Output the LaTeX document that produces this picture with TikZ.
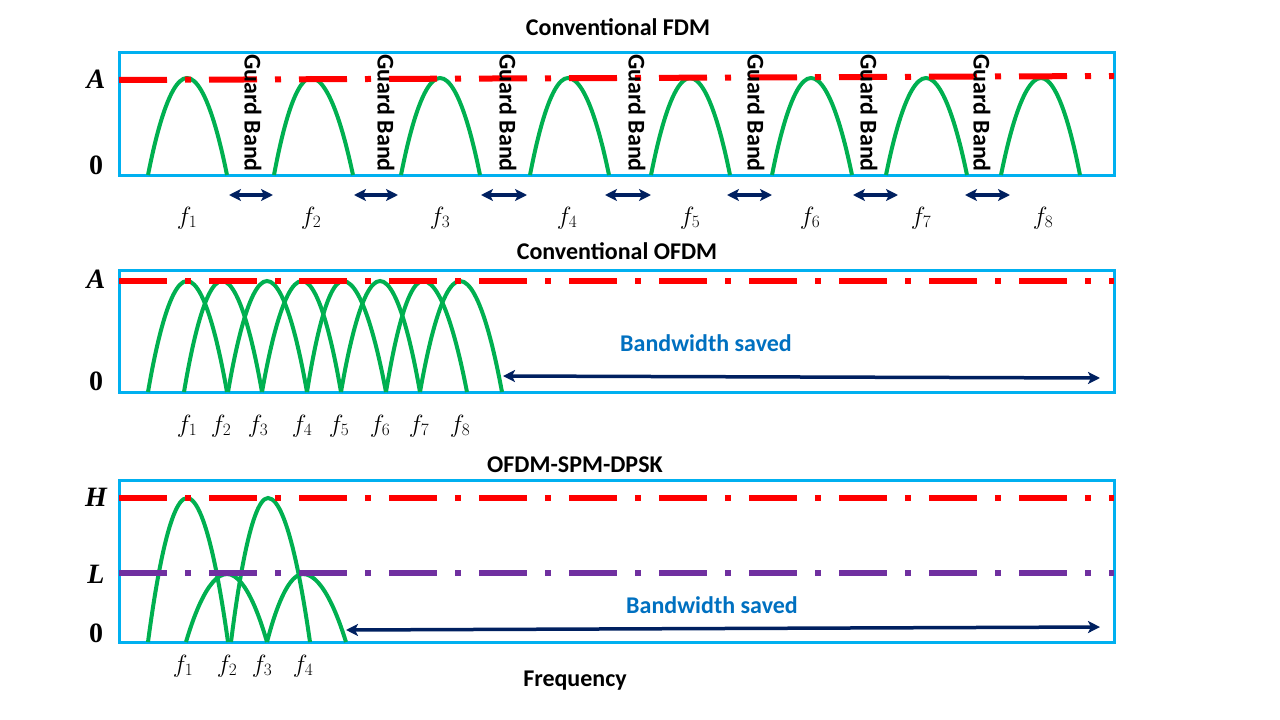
\documentclass[tikz,border=0pt]{standalone}
\usepackage[no-math]{fontspec}
\setmainfont{Carlito}
\newfontfamily\axisfont{Liberation Serif}
\usetikzlibrary{arrows.meta}
\usetikzlibrary{calc}
\usetikzlibrary{positioning}

\definecolor{boxblue}{RGB}{0,176,240}
\definecolor{humpgreen}{RGB}{0,176,80}
\definecolor{arrownavy}{RGB}{0,32,96}
\definecolor{lowpurple}{RGB}{112,48,160}
\definecolor{savedblue}{RGB}{0,112,192}

\tikzset{
  panel/.style={draw=boxblue, line width=3pt},
  level/.style={line width=6pt, dash pattern=on 48pt off 18pt on 6pt off 18pt},
  hump/.style={draw=humpgreen, line width=4pt},
  gap/.style={draw=arrownavy, line width=3.5pt,
    {Stealth[length=12pt,width=12pt,inset=3pt]}-{Stealth[length=12pt,width=12pt,inset=3pt]}},
  title/.style={inner sep=0pt, font=\fontsize{24}{28}\selectfont\bfseries},
  guard/.style={inner sep=0pt, rotate=-90, font=\fontsize{24}{28}\selectfont\bfseries},
  saved/.style={inner sep=0pt, text=savedblue, font=\fontsize{24}{28}\selectfont\bfseries},
  freq/.style={inner sep=0pt, font=\fontsize{25}{28}\selectfont},
  axis/.style={inner sep=0pt, font=\fontsize{28}{30}\selectfont\axisfont\bfseries}
}

\begin{document}
\begin{tikzpicture}[x=1pt,y=-1pt]
    \useasboundingbox (0,0) rectangle (1280,720);

    \coordinate (fdm) at (119,52);
    \coordinate (ofdm) at (119,270);
    \coordinate (spm) at (119,480);

    \node[title] (fdmtitle) at (618,27) {Conventional FDM};
    \node[title] (ofdmtitle) at (617,251) {Conventional OFDM};
    \node[title] (spmtitle) at (575,465) {OFDM-SPM-DPSK};
    \node[title] (xlabel) at (575,681) {Frequency};

    % conventional FDM
    \draw[panel] (fdm) rectangle +(995,123);
    \foreach \s/\p/\e in {148/187/227, 274/311/353, 401/440/480, 530/568/609,
                          651/690/730, 772/811/852, 886/926/967, 1001/1041/1080}
        \draw[hump] (\s,175) parabola bend (\p,78) (\e,175);
    \draw[level,red] (fdm)++(0,28) -- ++(995,-4);
    \foreach \x [count=\i] in {253,386,508,637,756,869,982}
        \node[guard] (gb\i) at (\x,113) {Guard Band};
    \foreach \a/\b [count=\i] in {229/273,354/398,481/527,605/651,727/772,853/898,965/1010} {
        \coordinate (gl\i) at (\a,195);
        \coordinate (gr\i) at (\b,195);
        \draw[gap] (gl\i) -- (gr\i);
    }
    \foreach \x [count=\i] in {187,311,440,567,690,810,921,1043}
        \node[freq] (fa\i) at (\x,218) {$f_{\i}$};
    \node[axis] (amp1) at (96,79) {\itshape A};
    \node[axis] (zero1) at (96,165) {0};

    % conventional OFDM
    \draw[panel] (ofdm) rectangle +(995,122);
    \foreach \s/\p/\e in {148/187/227, 184/222/262, 228/267/307, 262/302/341,
                          307/343/386, 341/380/420, 386/423/467, 420/460/502}
        \draw[hump] (\s,392) parabola bend (\p,281) (\e,392);
    \draw[level,red] (ofdm)++(0,11) -- ++(995,0);
    \foreach \x [count=\i] in {187,221,258,302,339,380,419,460}
        \node[freq] (fb\i) at (\x,426) {$f_{\i}$};
    \node[saved] (saved1) at (706,343) {Bandwidth saved};
    \coordinate (sl1) at (503,376);
    \coordinate (sr1) at (1100,378);
    \draw[gap] (sl1) -- (sr1);
    \node[axis] (amp2) at (96,279) {\itshape A};
    \node[axis] (zero2) at (96,381) {0};

    % OFDM-SPM-DPSK
    \draw[panel] (spm) rectangle +(995,162);
    \foreach \s/\p/\e/\t in {148/187/228/498, 186/227/267/574, 231/268/310/498, 267/303/346/574}
        \draw[hump] (\s,642) parabola bend (\p,\t) (\e,642);
    \draw[level,red] (spm)++(0,18) -- ++(995,0);
    \draw[level,lowpurple] (spm)++(0,93) -- ++(995,0);
    \foreach \x [count=\i] in {183,227,262,303}
        \node[freq] (fc\i) at (\x,666) {$f_{\i}$};
    \node[saved] (saved2) at (712,605) {Bandwidth saved};
    \coordinate (sl2) at (346,630);
    \coordinate (sr2) at (1100,627);
    \draw[gap] (sl2) -- (sr2);
    \node[axis] (high) at (96,497) {\itshape H};
    \node[axis] (low) at (96,574) {\itshape L};
    \node[axis] (zero3) at (96,633) {0};

\end{tikzpicture}
\end{document}
